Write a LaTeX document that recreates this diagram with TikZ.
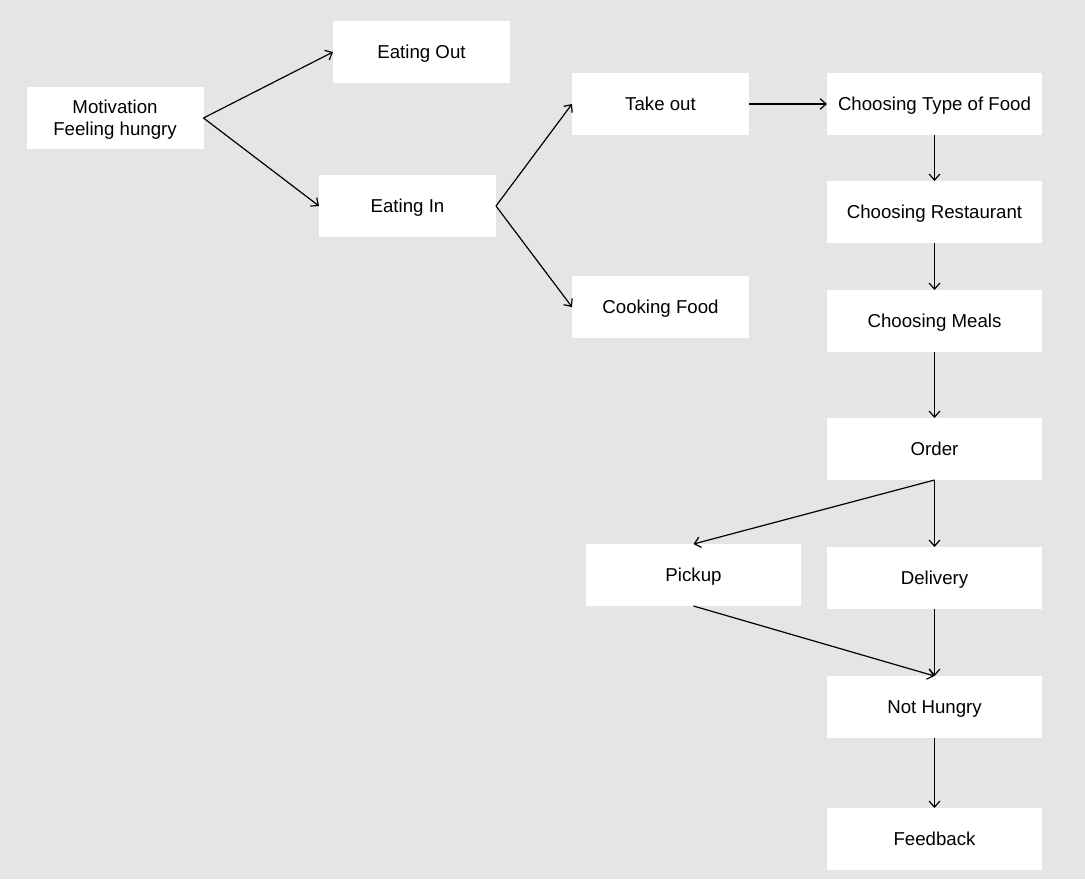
\documentclass[tikz,border=0pt]{standalone}
\usepackage{fontspec}
\setmainfont{Liberation Sans}
\usetikzlibrary{arrows.meta}
\begin{document}
\begin{tikzpicture}[x=0.75pt,y=-0.75pt,
  box/.style={fill=white,draw=none,inner sep=0pt,outer sep=0pt,minimum width=132.75pt,minimum height=46.5pt,font=\fontsize{14pt}{16.5pt}\selectfont,align=center,text depth=0pt},
  wbox/.style={box,minimum width=161.25pt},
  arr/.style={-{Straight Barb[length=4.5pt,width=8pt]},line width=0.9pt,black}]
\fill[fill={rgb,255:red,229;green,229;blue,229}] (0,0) rectangle (1085,879);
\useasboundingbox (0,0) rectangle (1085,879);
\node[box] (mot) at (115,118) {Motivation\\Feeling hungry};
\node[box] (eo) at (421.5,52) {Eating Out};
\node[box] (ei) at (407.5,206) {Eating In};
\node[box] (to) at (660.5,104) {Take out};
\node[box] (cf) at (660.5,307) {Cooking Food};
\node[wbox] (ct) at (934.5,104) {Choosing Type of Food};
\node[wbox] (cr) at (934.5,212) {Choosing Restaurant};
\node[wbox] (cm) at (934.5,321) {Choosing Meals};
\node[wbox] (or) at (934.5,449) {Order};
\node[wbox] (pu) at (693.5,575) {Pickup};
\node[wbox] (de) at (934.5,578) {Delivery};
\node[wbox] (nh) at (934.5,707) {Not Hungry};
\node[wbox] (fb) at (934.5,839) {Feedback};
\draw[arr] (mot.east) -- (eo.west);
\draw[arr] (mot.east) -- (ei.west);
\draw[arr] (ei.east) -- (to.west);
\draw[arr] (ei.east) -- (cf.west);
\draw[arr] (to.east) -- (ct.west);
\draw[arr] (ct.south) -- (cr.north);
\draw[arr] (cr.south) -- (cm.north);
\draw[arr] (cm.south) -- (or.north);
\draw[arr] (or.south) -- (de.north);
\draw[arr] (or.south) -- (pu.north);
\draw[arr] (de.south) -- (nh.north);
\draw[arr] (pu.south) -- (nh.north);
\draw[arr] (nh.south) -- (fb.north);
\end{tikzpicture}
\end{document}
